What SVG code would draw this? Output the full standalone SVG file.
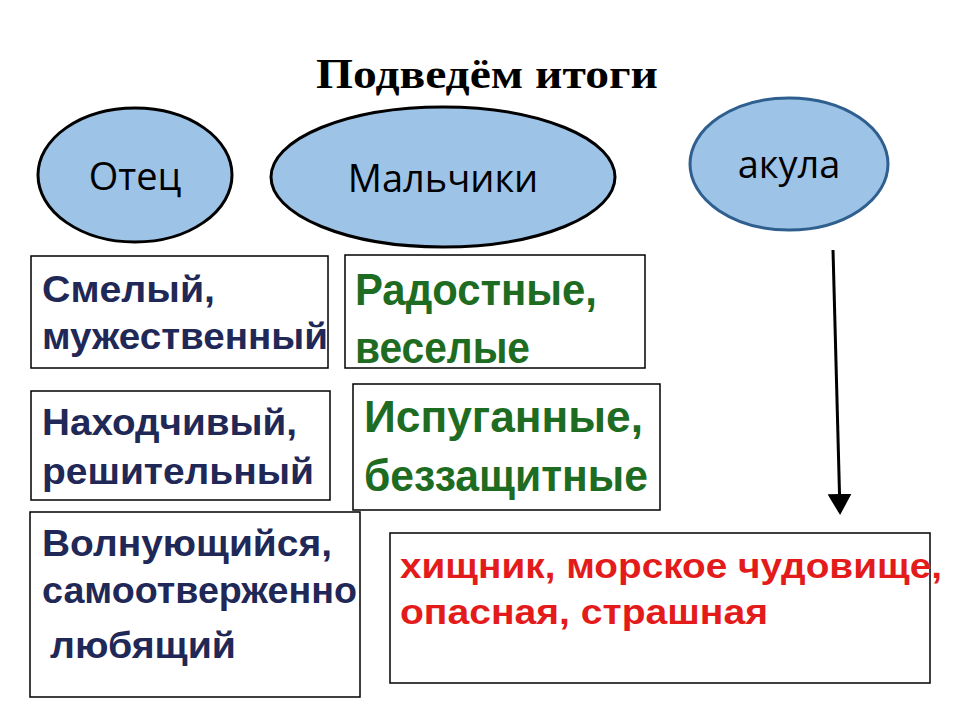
<svg xmlns="http://www.w3.org/2000/svg" width="960" height="720" viewBox="0 0 960 720">
<style>
.el{fill:#9dc3e6;stroke:#000;stroke-width:3}
.bx{fill:#fff;stroke:#000;stroke-width:1.5}
.et{font-family:"Open Sans","Liberation Sans",sans-serif;font-size:38px;fill:#000;text-anchor:middle}
.t{font-family:"Liberation Sans",Arial,sans-serif;font-weight:bold}
.n{fill:#1f2856;font-size:36px}
.g{fill:#1e6b22;font-size:44px}
.r{fill:#e31b1b;font-size:35px}
</style>
<defs><marker id="ah" markerWidth="8" markerHeight="8" refX="6" refY="4" orient="auto" markerUnits="strokeWidth"><path d="M0,0 L7,4 L0,8 z" fill="#000"/></marker></defs>
<rect width="960" height="720" fill="#fff"/>
<text x="316" y="88" textLength="342" lengthAdjust="spacingAndGlyphs" font-family="Liberation Serif,serif" font-weight="bold" font-size="42">Подведём итоги</text>
<g id="otec"><ellipse class="el" cx="135" cy="175" rx="97" ry="67"/><text class="et" x="135" y="190">Отец</text></g>
<g id="malchiki"><ellipse class="el" cx="443" cy="177" rx="172" ry="70"/><text class="et" x="443" y="192">Мальчики</text></g>
<g id="akula"><ellipse class="el" cx="789" cy="164" rx="99" ry="66" style="stroke:#2e5f8f"/><text class="et" x="789" y="178">акула</text></g>
<g id="b1"><rect class="bx" x="31" y="256" width="297" height="112"/><text class="t n" x="42" y="302" textLength="173" lengthAdjust="spacingAndGlyphs">Смелый,</text><text class="t n" x="42" y="349" textLength="286" lengthAdjust="spacingAndGlyphs">мужественный</text></g>
<g id="b2"><rect class="bx" x="345" y="255" width="300" height="113"/><text class="t g" x="355" y="305" textLength="242" lengthAdjust="spacingAndGlyphs">Радостные,</text><text class="t g" x="355" y="363" textLength="175" lengthAdjust="spacingAndGlyphs">веселые</text></g>
<g id="b3"><rect class="bx" x="31" y="391" width="299" height="109"/><text class="t n" x="42" y="435" textLength="255" lengthAdjust="spacingAndGlyphs">Находчивый,</text><text class="t n" x="42" y="484" textLength="272" lengthAdjust="spacingAndGlyphs">решительный</text></g>
<g id="b4"><rect class="bx" x="353" y="384" width="307" height="126"/><text class="t g" x="364" y="432" textLength="279" lengthAdjust="spacingAndGlyphs">Испуганные,</text><text class="t g" x="364" y="491" textLength="284" lengthAdjust="spacingAndGlyphs">беззащитные</text></g>
<g id="b5"><rect class="bx" x="30" y="512" width="330" height="185"/><text class="t n" x="42" y="556" textLength="290" lengthAdjust="spacingAndGlyphs">Волнующийся,</text><text class="t n" x="42" y="603" textLength="315" lengthAdjust="spacingAndGlyphs">самоотверженно</text><text class="t n" x="50" y="658" textLength="186" lengthAdjust="spacingAndGlyphs">любящий</text></g>
<g id="b6"><rect class="bx" x="390" y="533" width="540" height="150"/><text class="t r" x="400" y="578" textLength="542" lengthAdjust="spacingAndGlyphs">хищник, морское чудовище,</text><text class="t r" x="400" y="624" textLength="368" lengthAdjust="spacingAndGlyphs">опасная, страшная</text></g>
<g id="connectors"><line x1="833" y1="250" x2="840" y2="512" stroke="#000" stroke-width="3" marker-end="url(#ah)"/></g>
</svg>
